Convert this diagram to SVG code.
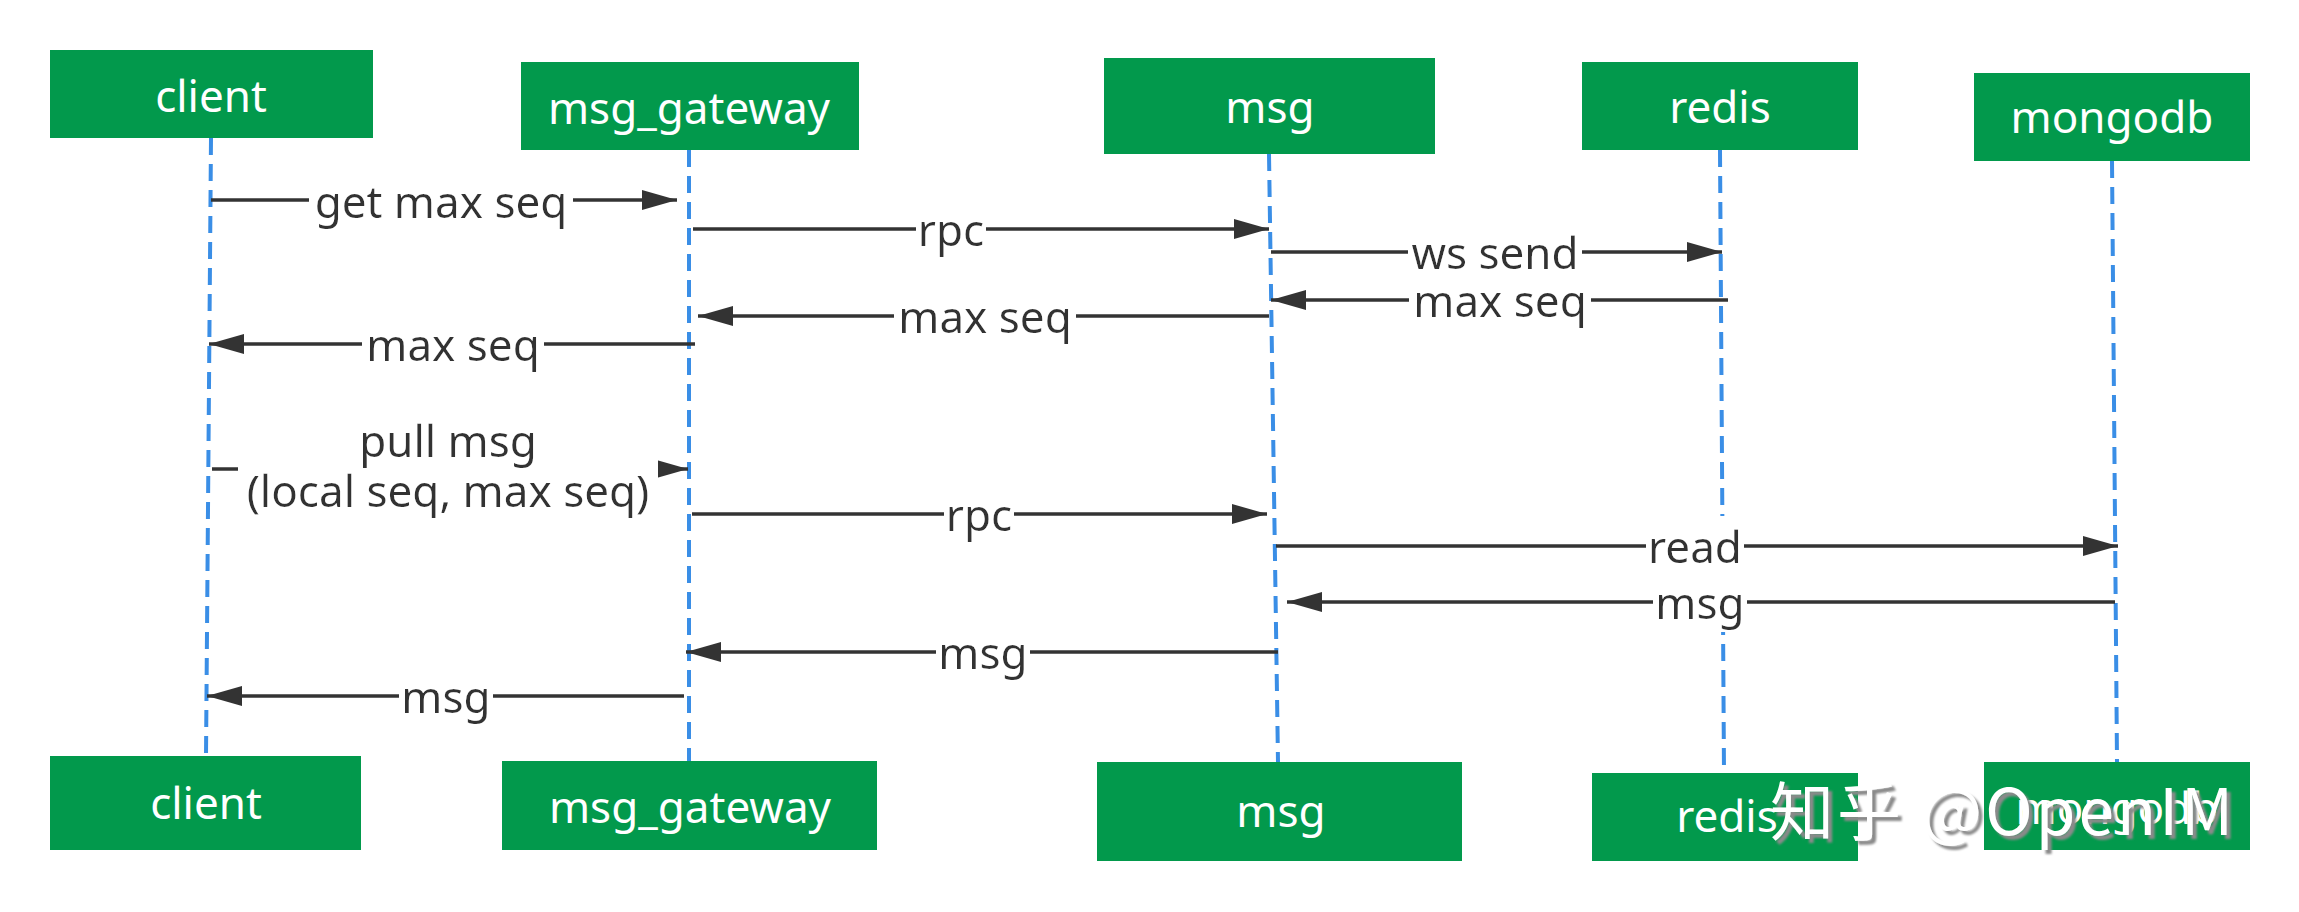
<svg xmlns="http://www.w3.org/2000/svg" width="2299" height="912" viewBox="0 0 2299 912">
<style>
.node rect{fill:#02994c}
.node text{fill:#ffffff;font-family:"Noto Sans","Open Sans",sans-serif;font-size:44px;text-anchor:middle}
.life{stroke:#3a8ee6;stroke-width:4;stroke-dasharray:17 9;fill:none}
.msgline{stroke:#333333;stroke-width:3.5;fill:none;marker-end:url(#arr)}
.lbl{fill:#333333;font-family:"Noto Sans","Open Sans",sans-serif;font-size:44px;text-anchor:middle;filter:url(#bg)}
.wm{fill:#ffffff;font-family:"Noto Sans CJK SC","Noto Sans",sans-serif;font-size:64px;filter:url(#shadow)}
</style>
<defs>
<marker id="arr" markerUnits="userSpaceOnUse" markerWidth="36" markerHeight="22" refX="35" refY="10" orient="auto">
<path d="M0,0 L35,10 L0,20 z" fill="#333333"/>
</marker>
<filter id="bg" x="-0.02" y="0" width="1.04" height="1">
<feFlood flood-color="#ffffff"/>
<feComposite in="SourceGraphic"/>
</filter>
<filter id="shadow" x="-0.05" y="-0.2" width="1.1" height="1.4">
<feDropShadow dx="4" dy="4" stdDeviation="1" flood-color="#8a8a8a"/>
</filter>
</defs>
<rect width="2299" height="912" fill="#ffffff"/>
<g id="lifelines">
<line class="life" x1="211" y1="138" x2="206" y2="756"/>
<line class="life" x1="689" y1="150" x2="689" y2="761"/>
<line class="life" x1="1269" y1="154" x2="1278" y2="762"/>
<line class="life" x1="1720" y1="150" x2="1724" y2="773"/>
<line class="life" x1="2112" y1="161" x2="2117" y2="762"/>
</g>
<g id="connectors">
<line class="msgline" x1="211" y1="200" x2="677" y2="200"/>
<line class="msgline" x1="693" y1="229" x2="1269" y2="229"/>
<line class="msgline" x1="1271" y1="252" x2="1722" y2="252"/>
<line class="msgline" x1="1728" y1="300" x2="1271" y2="300"/>
<line class="msgline" x1="1269" y1="316" x2="698" y2="316"/>
<line class="msgline" x1="695" y1="344" x2="209" y2="344"/>
<line class="msgline" x1="212" y1="469" x2="688" y2="469"/>
<line class="msgline" x1="692" y1="514" x2="1267" y2="514"/>
<line class="msgline" x1="1276" y1="546" x2="2118" y2="546"/>
<line class="msgline" x1="2115" y1="602" x2="1287" y2="602"/>
<line class="msgline" x1="1278" y1="652" x2="686" y2="652"/>
<line class="msgline" x1="684" y1="696" x2="207" y2="696"/>
<text class="lbl" x="441" y="218">get max seq</text>
<text class="lbl" x="951" y="246">rpc</text>
<text class="lbl" x="1495" y="269">ws send</text>
<text class="lbl" x="1500" y="317">max seq</text>
<text class="lbl" x="985" y="333">max seq</text>
<text class="lbl" x="453" y="361">max seq</text>
<text class="lbl" x="448" y="457"><tspan x="448">pull msg</tspan><tspan x="448" dy="50">(local seq, max seq)</tspan></text>
<text class="lbl" x="979" y="531">rpc</text>
<text class="lbl" x="1695" y="563">read</text>
<text class="lbl" x="1700" y="619">msg</text>
<text class="lbl" x="983" y="669">msg</text>
<text class="lbl" x="446" y="713">msg</text>
</g>
<g id="client-top" class="node"><rect x="50" y="50" width="323" height="88"/><text x="211" y="112">client</text></g>
<g id="msg_gateway-top" class="node"><rect x="521" y="62" width="338" height="88"/><text x="689" y="124">msg_gateway</text></g>
<g id="msg-top" class="node"><rect x="1104" y="58" width="331" height="96"/><text x="1270" y="123">msg</text></g>
<g id="redis-top" class="node"><rect x="1582" y="62" width="276" height="88"/><text x="1720" y="123">redis</text></g>
<g id="mongodb-top" class="node"><rect x="1974" y="73" width="276" height="88"/><text x="2112" y="133">mongodb</text></g>
<g id="client-bottom" class="node"><rect x="50" y="756" width="311" height="94"/><text x="206" y="819">client</text></g>
<g id="msg_gateway-bottom" class="node"><rect x="502" y="761" width="375" height="89"/><text x="690" y="823">msg_gateway</text></g>
<g id="msg-bottom" class="node"><rect x="1097" y="762" width="365" height="99"/><text x="1281" y="827">msg</text></g>
<g id="redis-bottom" class="node"><rect x="1592" y="773" width="266" height="88"/><text x="1727" y="832">redis</text></g>
<g id="mongodb-bottom" class="node"><rect x="1984" y="762" width="266" height="88"/><text x="2117" y="824">mongodb</text></g>
<text class="wm" x="1770" y="835" textLength="463" lengthAdjust="spacing">知乎 @OpenIM</text>
</svg>
